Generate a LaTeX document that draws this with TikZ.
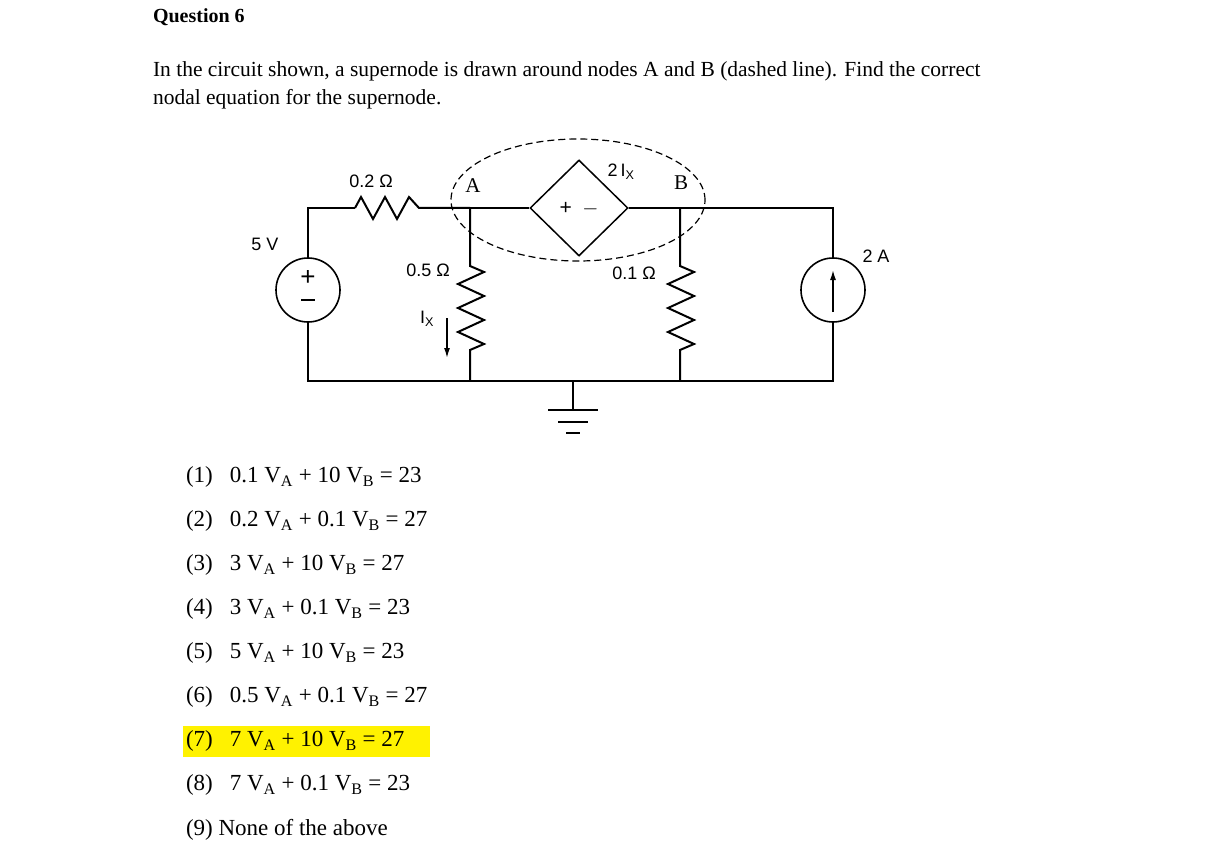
\documentclass[tikz,border=0pt]{standalone}
\usepackage{fontspec}
\setmainfont{Liberation Serif}
\setsansfont{Liberation Sans}
\usetikzlibrary{shapes.geometric,arrows.meta}
\begin{document}
\begin{tikzpicture}[x=1pt,y=-1pt,line width=2pt,
  lbl/.style={font=\sffamily\fontsize{18}{20}\selectfont,inner sep=0pt},
  ltr/.style={font=\fontsize{21}{24}\selectfont,inner sep=0pt},
  opt/.style={font=\fontsize{23}{26}\selectfont,inner sep=0pt,anchor=west},
  src/.style={draw,circle,minimum size=64pt,line width=1.6pt,inner sep=0pt}]
\useasboundingbox (0,0) rectangle (1223,845);
\fill[white] (0,0) rectangle (1223,845);
\node[font=\bfseries\fontsize{20}{23}\selectfont,anchor=west,inner sep=0pt] (q) at (152,17) {Question 6};
\node[font=\fontsize{21.5}{25}\selectfont,anchor=west,inner sep=0pt] (p1) at (152,71) {In the circuit shown, a supernode is drawn around nodes A and B (dashed line). Find the correct};
\node[font=\fontsize{21.5}{25}\selectfont,anchor=west,inner sep=0pt] (p2) at (152,99) {nodal equation for the supernode.};
% coordinates
\coordinate (tl) at (308,208); \coordinate (bl) at (308,381);
\coordinate (a) at (470,208); \coordinate (ab) at (470,381);
\coordinate (b) at (680,208); \coordinate (bb) at (680,381);
\coordinate (tr) at (833,208); \coordinate (br) at (833,381);
\node[src] (vs) at (308,290) {};
\node[src] (is) at (833,290) {};
\node[draw,diamond,minimum width=98pt,minimum height=96pt,inner sep=0pt,line width=1.5pt] (d) at (579,208) {};
% wires
\draw (vs.north) -- (tl) -- (355,208);
\draw (355,208) -- (361,197) -- (373,219) -- (385,197) -- (397,219) -- (409,197) -- (419,208) -- (a);
\draw (a) -- (d.west); \draw (d.east) -- (b) -- (tr) -- (is.north);
\draw (a) -- (470,266) -- (484,272) -- (458,284) -- (484,296) -- (458,308) -- (484,320) -- (458,332) -- (484,344) -- (470,350) -- (ab);
\draw (b) -- (680,266) -- (694,272) -- (668,284) -- (694,296) -- (668,308) -- (694,320) -- (668,332) -- (694,344) -- (680,350) -- (bb);
\draw (vs.south) -- (bl) -- (br) -- (is.south);
\draw (573,381) -- (573,410);
\draw (548,410) -- (598,410); \draw (558,422) -- (588,422); \draw (566,433) -- (580,433);
% source symbols
\node[lbl,font=\sffamily\fontsize{26}{26}\selectfont] (pl) at (308,278) {+};
\draw (301,300) -- (315,300);
\draw[-{Latex[length=10pt,width=6pt]},line width=1.5pt] (833,312) -- (833,270);
\node[lbl,font=\sffamily\fontsize{21}{21}\selectfont] (pm) at (579,209) {+\,\,\,$-$};
\draw[-{Latex[length=10pt,width=6pt]},line width=1.5pt] (447,318) -- (447,358);
% ellipse
\draw[line width=1.2pt,dash pattern=on 7pt off 4pt] (578,200) ellipse (127pt and 61pt);
% labels
\node[lbl] (l1) at (371,181) {0.2 Ω};
\node[lbl] (l2) at (428,270) {0.5 Ω};
\node[lbl] (l3) at (634,273) {0.1 Ω};
\node[lbl] (l4) at (265,244) {5 V};
\node[lbl] (l5) at (876,256) {2 A};
\node[lbl] (l6) at (621,172) {2\,I\textsubscript{X}};
\node[lbl] (l7) at (427,319) {I\textsubscript{X}};
\node[ltr] (la) at (473,186) {A};
\node[ltr] (lb) at (681,183) {B};
% options
\fill[yellow] (183,726) rectangle (430,757);
\foreach \t [count=\i] in {{0.1 V\textsubscript{A} + 10 V\textsubscript{B} = 23},{0.2 V\textsubscript{A} + 0.1 V\textsubscript{B} = 27},{3 V\textsubscript{A} + 10 V\textsubscript{B} = 27},{3 V\textsubscript{A} + 0.1 V\textsubscript{B} = 23},{5 V\textsubscript{A} + 10 V\textsubscript{B} = 23},{0.5 V\textsubscript{A} + 0.1 V\textsubscript{B} = 27},{7 V\textsubscript{A} + 10 V\textsubscript{B} = 27},{7 V\textsubscript{A} + 0.1 V\textsubscript{B} = 23}}
  \node[opt] (o\i) at (185,{477+44*(\i-1)}) {(\i)\hspace{17pt}\t};
\node[opt] (o9) at (185,830) {(9) None of the above};
\end{tikzpicture}
\end{document}
